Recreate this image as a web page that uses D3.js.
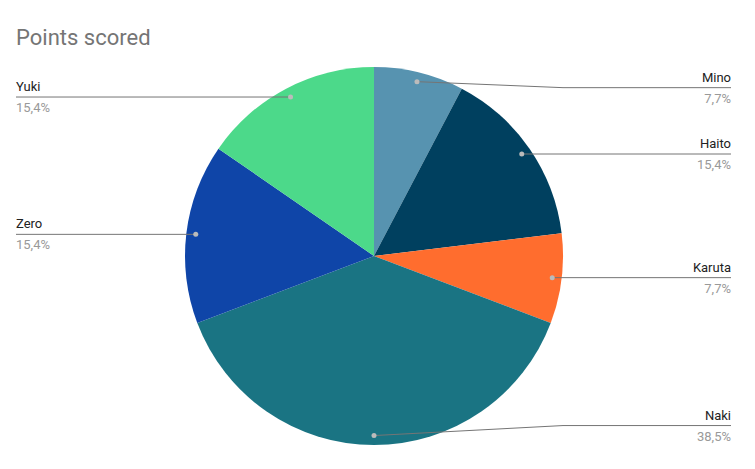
<!DOCTYPE html>
<html><head><meta charset="utf-8">
<script src="https://cdn.jsdelivr.net/npm/d3@7"></script>
<style>body{margin:0;background:#fff;font-family:Roboto,Arial,sans-serif}</style>
</head><body><svg id="chart" width="755" height="469"></svg>
<script>
const names = ['Mino', 'Haito', 'Karuta', 'Naki', 'Zero', 'Yuki'];
const points = [1, 2, 1, 5, 2, 2];
const colors = ['#5793b0', '#00405f', '#ff6d2e', '#1a7483', '#0f45a8', '#4cd98a'];

const svg = d3.select('#chart');
const cx = 374, cy = 256, R = 189;

svg.append('text').attr('x', 16).attr('y', 45)
  .attr('font-size', 22).attr('fill', '#757575').text('Points scored');

const pie = d3.pie().sort(null)(points);
const arc = d3.arc().innerRadius(0).outerRadius(R);
const g = svg.append('g').attr('transform', `translate(${cx},${cy})`);
g.selectAll('path').data(pie).join('path')
  .attr('d', arc).attr('fill', (d, i) => colors[i]);

const total = d3.sum(points);
const fmt = v => (v / total * 100).toFixed(1).replace('.', ',') + '%';

pie.forEach((d, i) => {
  const a = (d.startAngle + d.endAngle) / 2;
  const px = cx + R * 0.95 * Math.sin(a), py = cy - R * 0.95 * Math.cos(a);
  const right = Math.sin(a) >= 0;
  const endX = right ? 731 : 16;
  const elbowX = right ? Math.max(px, cx + R) : Math.min(px, cx - R);
  svg.append('polyline')
    .attr('points', `${px},${py} ${elbowX},${py + (i === 0 ? 6 : i === 3 ? -10 : 0)} ${endX},${py + (i === 0 ? 6 : i === 3 ? -10 : 0)}`)
    .attr('fill', 'none').attr('stroke', '#757575').attr('stroke-width', 1);
  svg.append('circle').attr('cx', px).attr('cy', py).attr('r', 2.5).attr('fill', '#bbb');
  const ly = py + (i === 0 ? 6 : i === 3 ? -10 : 0);
  const anchor = right ? 'end' : 'start';
  svg.append('text').attr('x', endX).attr('y', ly - 6).attr('text-anchor', anchor)
    .attr('font-size', 13).attr('fill', '#222').text(names[i]);
  svg.append('text').attr('x', endX).attr('y', ly + 15).attr('text-anchor', anchor)
    .attr('font-size', 13).attr('fill', '#999').text(fmt(points[i]));
});
</script></body></html>
